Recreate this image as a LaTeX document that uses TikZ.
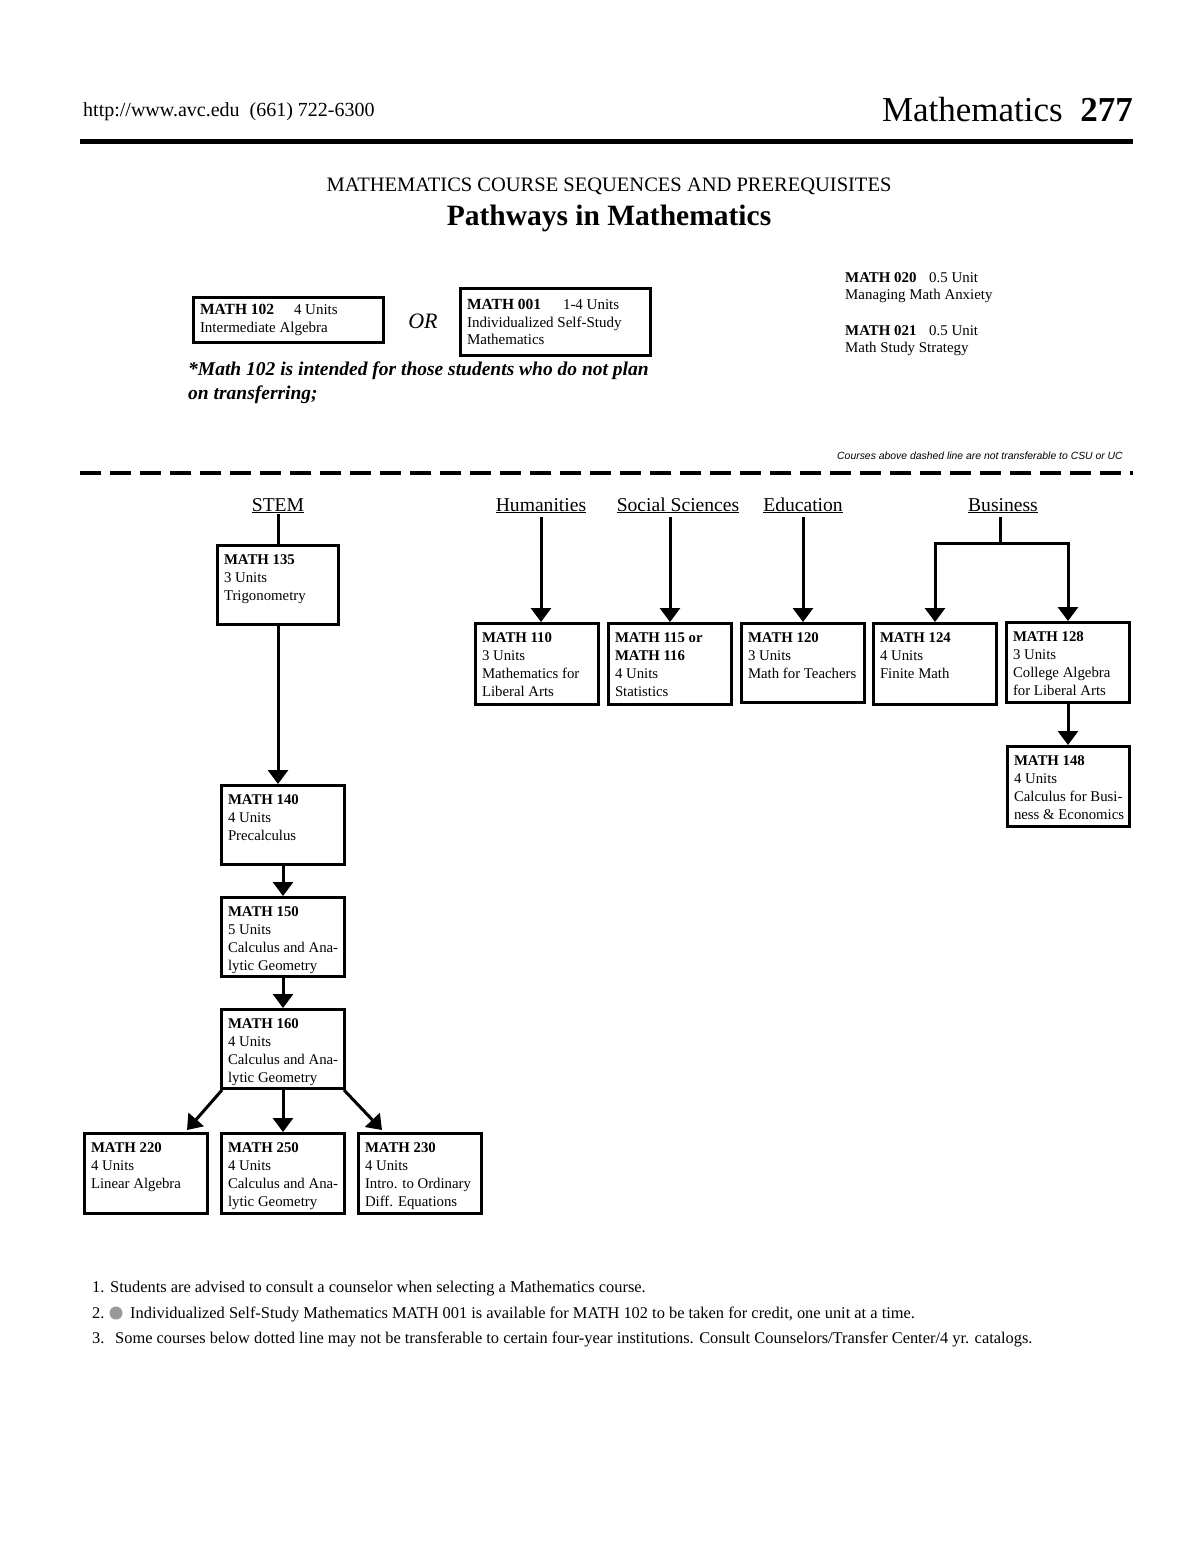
\documentclass[tikz,border=0pt]{standalone}
\usepackage{fontspec}
\setmainfont{Liberation Serif}
\newfontfamily\notesans{Liberation Sans}
\usetikzlibrary{arrows.meta,calc}

\tikzset{
  cbox/.style={draw, line width=2.6pt, rectangle, inner xsep=6.7pt, inner ysep=6.7pt, anchor=north west, align=left},
  flow/.style={line width=3pt, -{Triangle[width=20pt,length=14pt]}},
  plain/.style={line width=3pt},
  cat/.style={inner sep=1pt, anchor=base, font=\fontsize{19.6}{22}\selectfont},
  txt/.style={inner sep=0pt, anchor=base west, align=left},
  fn/.style={inner sep=0pt, anchor=base west, font=\fontsize{16.4}{19}\selectfont}
}
\newcommand{\crsbox}[6]{%
  \node[cbox] (#1) at (#2,#3) {\parbox[t][\dimexpr#5pt-16pt\relax][t]{\dimexpr#4pt-16pt\relax}{\fontsize{14.8}{18}\selectfont\begin{tabular}[t]{@{}l@{}}#6\end{tabular}}};}

\begin{document}
\begin{tikzpicture}[x=1pt,y=-1pt]
\useasboundingbox (0,0) rectangle (1200,1553);
\fill[white] (0,0) rectangle (1200,1553);

% header
\node[txt] (url) at (83,116) {\fontsize{20}{22}\selectfont http://www.avc.edu\ \ (661) 722-6300};
\node[inner sep=0pt, anchor=base east] (pg) at (1133,121) {\fontsize{35}{40}\selectfont Mathematics\ \ \textbf{277}};
\coordinate (rl) at (80,141);
\coordinate (rr) at (1133,141);
\draw[line width=5pt] (rl) -- (rr);

\node[inner sep=0pt, anchor=base] (t1) at (609,191) {\fontsize{20.5}{22}\selectfont MATHEMATICS COURSE SEQUENCES AND PREREQUISITES};
\node[inner sep=0pt, anchor=base] (t2) at (609,225) {\fontsize{29.5}{32}\selectfont\bfseries Pathways in Mathematics};

% top boxes
\node[cbox, inner ysep=0pt] (m102) at (192,296) {\parbox[c][45.4pt][c]{177pt}{\fontsize{15}{18}\selectfont\makebox[94pt][l]{\fontsize{15.5}{18}\selectfont\textbf{MATH 102}}4 Units\\Intermediate Algebra}};
\node[inner sep=0pt] (or) at (423,321) {\fontsize{22}{24}\selectfont\itshape OR};
\node[cbox, inner ysep=0pt] (m001) at (459,287) {\parbox[c][67.4pt][c]{177pt}{\fontsize{15}{17.5}\selectfont\makebox[96pt][l]{\fontsize{15.5}{18}\selectfont\textbf{MATH 001}}1-4 Units\\Individualized Self-Study\\Mathematics}};
\node[txt] (note1) at (188,375) {\fontsize{19.5}{22}\selectfont\bfseries\itshape *Math 102 is intended for those students who do not plan};
\node[txt] (note2) at (188,399) {\fontsize{19.5}{22}\selectfont\bfseries\itshape on transferring;};

\node[txt] (m020a) at (845,282) {\fontsize{14.9}{17}\selectfont\makebox[84pt][l]{\textbf{MATH 020}}0.5 Unit};
\node[txt] (m020b) at (845,299) {\fontsize{14.9}{17}\selectfont Managing Math Anxiety};
\node[txt] (m021a) at (845,335) {\fontsize{14.9}{17}\selectfont\makebox[84pt][l]{\textbf{MATH 021}}0.5 Unit};
\node[txt] (m021b) at (845,352) {\fontsize{14.9}{17}\selectfont Math Study Strategy};

\node[inner sep=0pt, anchor=base east] (dnote) at (1123,459) {\notesans\fontsize{10.4}{12}\selectfont\itshape Courses above dashed line are not transferable to CSU or UC};
\coordinate (dl) at (80,473);
\coordinate (dr) at (1133,473);
\draw[line width=3.5pt, dash pattern=on 21pt off 9pt] (dl) -- (dr);

% categories
\node[cat] (stem) at (278,511) {\underline{STEM}};
\node[cat] (hum) at (541,511) {\underline{Humanities}};
\node[cat] (soc) at (678,511) {\underline{Social Sciences}};
\node[cat] (edu) at (803,511) {\underline{Education}};
\node[cat] (bus) at (1003,511) {\underline{Business}};

% course boxes
\crsbox{m135}{216}{544}{124}{82}{\textbf{MATH 135}\\3 Units\\Trigonometry}
\crsbox{m140}{220}{784}{126}{82}{\textbf{MATH 140}\\4 Units\\Precalculus}
\crsbox{m150}{220}{896}{126}{82}{\textbf{MATH 150}\\5 Units\\Calculus and Ana-\\lytic Geometry}
\crsbox{m160}{220}{1008}{126}{82}{\textbf{MATH 160}\\4 Units\\Calculus and Ana-\\lytic Geometry}
\crsbox{m220}{83}{1132}{126}{83}{\textbf{MATH 220}\\4 Units\\Linear Algebra}
\crsbox{m250}{220}{1132}{126}{83}{\textbf{MATH 250}\\4 Units\\Calculus and Ana-\\lytic Geometry}
\crsbox{m230}{357}{1132}{126}{83}{\textbf{MATH 230}\\4 Units\\Intro. to Ordinary\\Diff. Equations}
\crsbox{m110}{474}{622}{126}{84}{\textbf{MATH 110}\\3 Units\\Mathematics for\\Liberal Arts}
\crsbox{m115}{607}{622}{126}{84}{\textbf{MATH 115 or}\\\textbf{MATH 116}\\4 Units\\Statistics}
\crsbox{m120}{740}{622}{126}{82}{\textbf{MATH 120}\\3 Units\\Math for Teachers}
\crsbox{m124}{872}{622}{126}{84}{\textbf{MATH 124}\\4 Units\\Finite Math}
\crsbox{m128}{1005}{621}{126}{83}{\textbf{MATH 128}\\3 Units\\College Algebra\\for Liberal Arts}
\crsbox{m148}{1006}{745}{125}{83}{\textbf{MATH 148}\\4 Units\\Calculus for Busi-\\ness \& Economics}

% connectors
\draw[plain] (m135.north |- stem.south) -- (m135.north);
\draw[flow] (m135.south) -- (m135.south |- m140.north);
\draw[flow] (m140.south) -- (m150.north);
\draw[flow] (m150.south) -- (m160.north);
\draw[flow] (m160.south) -- (m250.north);
\draw[flow] ($(m160.south west)+(2,0)$) -- ($(m220.north east)+(-22,-2)$);
\draw[flow] ($(m160.south east)+(-2,0)$) -- ($(m230.north west)+(25,-2)$);

\draw[flow] (hum.south |- 0,517) -- (hum.south |- m110.north);
\draw[flow] (m115.north |- 0,517) -- (m115.north);
\draw[flow] (edu.south |- 0,517) -- (edu.south |- m120.north);
\coordinate (bj) at (1000,543);
\coordinate (bl) at (935,543);
\coordinate (br) at (1068,543);
\draw[plain] (bj |- 0,517) -- (bj);
\draw[plain] ([xshift=-1.5pt]bl) -- ([xshift=1.5pt]br);
\draw[flow] (bl) -- (bl |- m124.north);
\draw[flow] (br) -- (br |- m128.north);
\draw[flow] (m128.south) -- (m128.south |- m148.north);

% footnotes
\node[fn] (n1) at (92,1292) {1.};
\node[fn] (f1) at (110,1292) {Students are advised to consult a counselor when selecting a Mathematics course.};
\node[fn] (n2) at (92,1318) {2.};
\node[circle, fill=black!40, inner sep=0pt, minimum size=13pt] (dot) at (116,1313) {};
\node[fn] (f2) at (130,1318) {Individualized Self-Study Mathematics MATH 001 is available for MATH 102 to be taken for credit, one unit at a time.};
\node[fn] (n3) at (92,1343) {3.};
\node[fn] (f3) at (115,1343) {Some courses below dotted line may not be transferable to certain four-year institutions. Consult Counselors/Transfer Center/4 yr. catalogs.};
\end{tikzpicture}
\end{document}
